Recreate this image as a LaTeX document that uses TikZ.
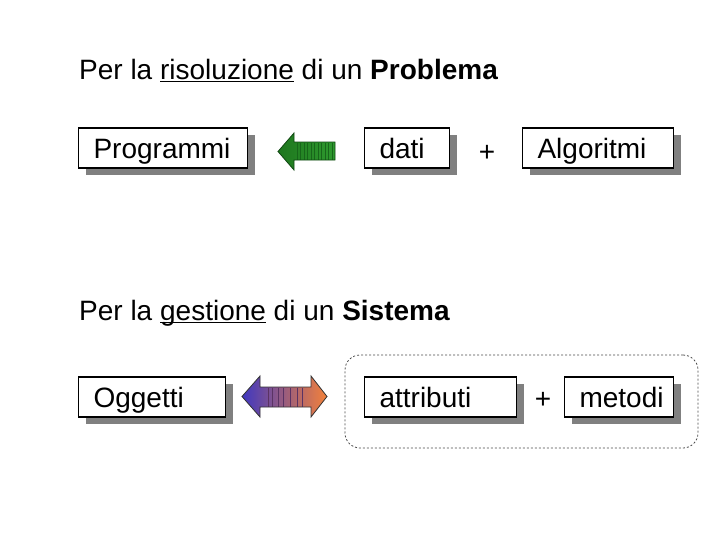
\documentclass[tikz,border=0pt]{standalone}
\usepackage{fontspec}
\setmainfont{Liberation Sans}
\usetikzlibrary{shadows}
\definecolor{shadowgray}{HTML}{808080}
\definecolor{gdark}{HTML}{17661A}
\definecolor{gmid}{HTML}{2E9A2E}
\definecolor{gleft}{HTML}{1E761E}
\definecolor{ablue}{HTML}{4038C0}
\definecolor{apurple}{HTML}{8A4F9A}
\definecolor{aorange}{HTML}{F3813A}
\newcommand\myul[1]{\setbox0\hbox{#1}\rlap{\rule[-3pt]{\wd0}{1.4pt}}#1}
\tikzset{
  bigfont/.style={font=\fontsize{28}{33}\selectfont},
  itembox/.style={bigfont, draw=black, line width=1.1pt, fill=white, anchor=west,
    inner xsep=15pt, inner ysep=0pt, minimum height=40pt, align=left,
    text height=20pt, text depth=0pt,
    drop shadow={shadow xshift=7pt, shadow yshift=-7pt, fill=shadowgray, opacity=1}},
  titletext/.style={bigfont, anchor=base west, inner sep=0pt},
  plus/.style={bigfont, inner sep=0pt},
  stripe/.style={line width=0.6pt},
}
\begin{document}
\begin{tikzpicture}[x=1pt,y=-1pt]
\useasboundingbox (0,0) rectangle (728,546);
\fill[white] (0,0) rectangle (728,546);

% titles
\node[titletext] (t1) at (79,79) {Per la \myul{risoluzione} di un \textbf{Problema}};
\node[titletext] (t2) at (79,320) {Per la \myul{gestione} di un \textbf{Sistema}};

% row 1
\node[itembox, text width=139pt] (prog) at (78,148) {Programmi};
\node[itembox, text width=55pt] (dati) at (364,148) {dati};
\node[plus] (p1) at (487,153) {+};
\node[itembox, text width=121pt] (algo) at (522,148) {Algoritmi};

% green arrow
\path[left color=gleft, right color=gmid]
  (278,151.5) -- (294,133) -- (294,142) -- (335,142) -- (335,160) -- (294,160) -- (294,170) -- cycle;
\foreach \xx in {297,300.5,304,307.5,311,314.5,318,321.5,325,328.5,332}
  \draw[stripe, gdark] (\xx,142.5) -- (\xx,159.5);
\draw[gdark!70!black, line width=0.8pt, line join=miter]
  (278,151.5) -- (294,133) -- (294,142) -- (335,142) -- (335,160) -- (294,160) -- (294,170) -- cycle;

% row 2
\node[itembox, text width=117pt] (ogg) at (78,397) {Oggetti};
\node[draw=black!70, dashed, dash pattern=on 2pt off 2pt, line width=0.8pt,
  rounded corners=15pt, minimum width=353pt, minimum height=93pt] (grp) at (521.5,401.5) {};
\node[itembox, text width=122pt] (attr) at (364,397) {attributi};
\node[plus] (p2) at (543,400.5) {+};
\node[itembox, text width=79pt] (met) at (564,397) {metodi};

% double arrow
\path[left color=ablue, middle color=apurple, right color=aorange]
  (242,396.5) -- (260,376) -- (260,387) -- (311,387) -- (311,376) -- (327,396.5)
  -- (311,417) -- (311,407) -- (260,407) -- (260,417) -- cycle;
\foreach \xx in {268,272,278,283,290,297,302}
  \draw[line width=0.5pt, black!35!apurple] (\xx,387.5) -- (\xx,406.5);
\draw[black!80, line width=0.8pt, line join=miter]
  (242,396.5) -- (260,376) -- (260,387) -- (311,387) -- (311,376) -- (327,396.5)
  -- (311,417) -- (311,407) -- (260,407) -- (260,417) -- cycle;
\end{tikzpicture}
\end{document}
